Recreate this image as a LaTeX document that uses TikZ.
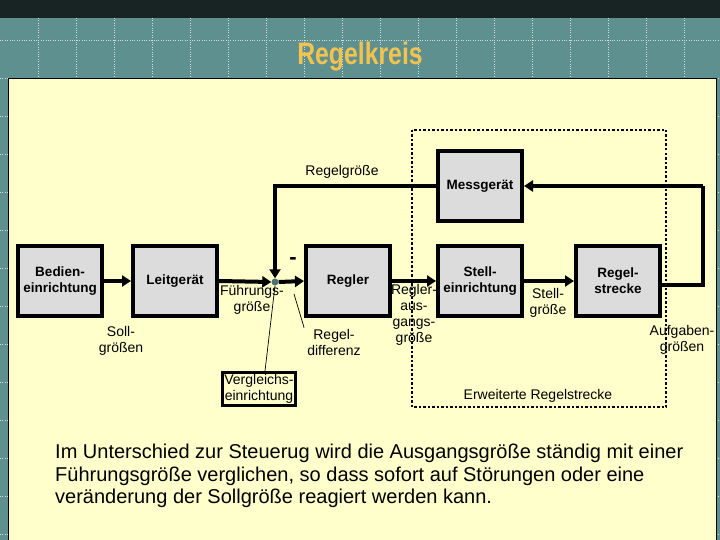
\documentclass[tikz,border=0pt]{standalone}
\usepackage{fontspec}
\setmainfont{Liberation Sans}
\usetikzlibrary{arrows.meta}
\definecolor{teal0}{HTML}{5F9090}
\definecolor{panel}{HTML}{FFFFCC}
\definecolor{boxg}{HTML}{DCDCDC}
\definecolor{ttl}{HTML}{F2C34E}
\tikzset{
 blk/.style={draw=black,line width=4pt,fill=boxg,minimum width=84pt,minimum height=70pt,font=\bfseries\fontsize{13.5}{16}\selectfont,align=center,inner sep=0pt},
 lbl/.style={font=\fontsize{14}{16}\selectfont,align=center,inner sep=1pt},
 sig/.style={line width=4pt,-{Triangle[length=9pt,width=11pt]}},
 fb/.style={line width=4pt},
}
\begin{document}
\begin{tikzpicture}[x=1pt,y=-1pt]
\useasboundingbox (0,0) rectangle (720,540);
\fill[teal0] (0,0) rectangle (720,540);
\foreach \x in {38,76,...,720} \draw[white!70!teal0,dotted] (\x,18)--(\x,540);
\foreach \y in {40,78,...,540} \draw[white!70!teal0,dotted] (0,\y)--(720,\y);
\fill[black!75!teal0] (0,0) rectangle (720,18);
\node[font=\bfseries\fontsize{31}{34}\selectfont,text=ttl,xscale=0.8] (title) at (360,57) {Regelkreis};
\draw[fill=panel,line width=0.8pt] (8,78) rectangle (716,541);
% blocks
\node[blk] (bed) at (60,281) {Bedien-\\einrichtung};
\node[blk] (leit) at (175,281) {Leitgerät};
\node[blk] (reg) at (348,281) {Regler};
\node[blk] (mess) at (480,186) {Messgerät};
\node[blk] (stell) at (480,281) {Stell-\\einrichtung};
\node[blk] (strk) at (618,281) {Regel-\\strecke};
\node[draw,line width=3pt,fill=panel,lbl,minimum width=60pt,inner sep=2pt] (verg) at (259,389) {Vergleichs-\\einrichtung};
\draw[dotted,line width=2.5pt] (412,130) rectangle (666,407);
\node[lbl] (erw) at (538,396) {Erweiterte Regelstrecke};
% comparator
\node[circle,fill=teal0!80!black,minimum size=7pt,inner sep=0pt] (cmp) at (275,282) {};
\coordinate (fbR) at (703,285);
\coordinate (fbT) at (703,186);
\coordinate (cmpT) at (275,186);
\draw[sig] (bed.east) -- (leit.west);
\draw[sig] (leit.east) -- (cmp.west);
\draw[sig] (cmp.east) -- (reg.west);
\draw[sig] (reg.east) -- (stell.west);
\draw[sig] (stell.east) -- (strk.west);
\draw[fb] (strk.east |- fbR) -- (fbR) -- (fbT);
\draw[sig] (fbT) -- (mess.east);
\draw[sig] (mess.west) -- (cmpT) -- (cmp.north);
\node[font=\bfseries\fontsize{22}{22}\selectfont] (minus) at (293,261) {-};
% labels
\node[lbl] (rg) at (342,172) {Regelgröße};
\node[lbl] (soll) at (121,341) {Soll-\\größen};
\node[lbl] (fg) at (252,300) {Führungs-\\größe};
\node[lbl] (rd) at (334,342) {Regel-\\differenz};
\node[lbl] (rag) at (414,315) {Regler-\\aus-\\gangs-\\größe};
\node[lbl] (sg) at (548,303) {Stell-\\größe};
\node[lbl] (ag) at (682,340) {Aufgaben-\\größen};
\draw[line width=0.7pt] (verg.north) ++(6,0) -- (cmp.south);
\coordinate (rdT) at (294,294);
\draw[line width=0.7pt] (rd.north west) ++(-2,0) -- (rdT);
\node[anchor=north west,align=left,font=\fontsize{20}{22.5}\selectfont,inner sep=0pt] (body) at (55,444) {Im Unterschied zur Steuerug wird die Ausgangsgröße ständig mit einer\\Führungsgröße verglichen, so dass sofort auf Störungen oder eine\\veränderung der Sollgröße reagiert werden kann.};
\end{tikzpicture}
\end{document}
